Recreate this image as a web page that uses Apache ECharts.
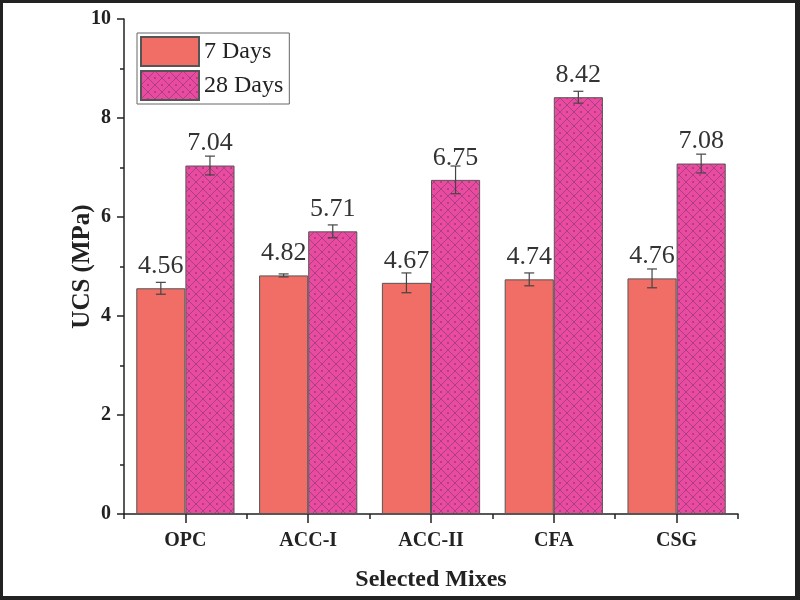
<!DOCTYPE html>
<html>
<head>
<meta charset="utf-8">
<script src="https://cdn.jsdelivr.net/npm/echarts@6/dist/echarts.min.js"></script>
<style>
html,body{margin:0;padding:0;background:#fff;}
#chart{width:800px;height:600px;}
</style>
</head>
<body>
<div id="chart"></div>
<script>
const categories = ['OPC', 'ACC-I', 'ACC-II', 'CFA', 'CSG'];
const days7 = [4.56, 4.82, 4.67, 4.74, 4.76];
const days28 = [7.04, 5.71, 6.75, 8.42, 7.08];
const err7 = [0.12, 0.03, 0.2, 0.13, 0.19];
const err28 = [0.19, 0.13, 0.28, 0.12, 0.19];
const yTicks = [0, 2, 4, 6, 8, 10];

const FONT = '"Liberation Serif", "Times New Roman", serif';

// crosshatch pattern for 28 Days
function makePattern() {
  const s = 14;
  const c = document.createElement('canvas');
  c.width = s; c.height = s;
  const g = c.getContext('2d');
  g.fillStyle = '#E94C9F';
  g.fillRect(0, 0, s, s);
  g.strokeStyle = 'rgba(80,40,100,0.6)';
  g.lineWidth = 0.7;
  g.beginPath();
  g.moveTo(0, 0); g.lineTo(s, s);
  g.moveTo(s, 0); g.lineTo(0, s);
  g.stroke();
  g.fillStyle = 'rgba(60,20,80,0.7)';
  [[s/2,0],[0,s/2],[s,s/2],[s/2,s]].forEach(p => {
    g.beginPath(); g.arc(p[0], p[1], 0.75, 0, Math.PI*2); g.fill();
  });
  return c;
}
const pattern = makePattern();

const chart = echarts.init(document.getElementById('chart'), null, {renderer: 'canvas'});

function errorSeries(vals, errs, side) {
  return {
    type: 'custom',
    xAxisIndex: 0,
    yAxisIndex: 0,
    data: vals.map((v, i) => [i, v, errs[i]]),
    z: 10,
    silent: true,
    renderItem: function (params, api) {
      const i = api.value(0);
      const v = api.value(1);
      const e = api.value(2);
      const band = api.size([1, 0])[0];
      const bw = band * 0.8 / 2;
      const c = api.coord([i, v]);
      const x = c[0] + side * bw / 2;
      const yTop = api.coord([i, v + e])[1];
      const yBot = api.coord([i, v - e])[1];
      const cap = 5;
      const style = {stroke: '#444', lineWidth: 1.2};
      return {
        type: 'group',
        children: [
          {type: 'line', shape: {x1: x, y1: yTop, x2: x, y2: yBot}, style: style},
          {type: 'line', shape: {x1: x - cap, y1: yTop, x2: x + cap, y2: yTop}, style: style},
          {type: 'line', shape: {x1: x - cap, y1: yBot, x2: x + cap, y2: yBot}, style: style}
        ]
      };
    }
  };
}

const labelStyle = {
  show: true,
  position: 'top',
  distance: 9,
  fontFamily: FONT,
  fontSize: 26,
  color: '#333'
};

const option = {
  animation: false,
  backgroundColor: '#fff',
  graphic: [
    {type: 'rect', shape: {x: 0, y: 0, width: 800, height: 3}, style: {fill: '#222'}, z: 100},
    {type: 'rect', shape: {x: 0, y: 596, width: 800, height: 4}, style: {fill: '#222'}, z: 100},
    {type: 'rect', shape: {x: 0, y: 0, width: 3, height: 600}, style: {fill: '#222'}, z: 100},
    {type: 'rect', shape: {x: 795, y: 0, width: 5, height: 600}, style: {fill: '#222'}, z: 100}
  ],
  grid: {left: 124, right: 62, top: 19, bottom: 86, containLabel: false},
  legend: {
    orient: 'vertical',
    left: 137,
    top: 33,
    itemWidth: 58,
    itemHeight: 29,
    itemGap: 3,
    padding: [3, 6, 3, 3],
    borderColor: '#666',
    borderWidth: 1,
    icon: 'rect',
    textStyle: {fontFamily: FONT, fontSize: 24, color: '#222'},
    data: ['7 Days', '28 Days']
  },
  xAxis: [
    {
      type: 'category',
      data: categories,
      name: 'Selected Mixes',
      nameLocation: 'middle',
      nameGap: 54,
      nameMoveOverlap: false,
      nameTextStyle: {fontFamily: FONT, fontSize: 24, fontWeight: 'bold', color: '#222'},
      axisLine: {show: true, lineStyle: {color: '#222', width: 1.5}},
      axisTick: {show: true, alignWithLabel: true, length: 9, lineStyle: {color: '#222', width: 1.5}},
      axisLabel: {fontFamily: FONT, fontSize: 20, fontWeight: 'bold', color: '#222', margin: 17},
      splitLine: {show: false}
    },
    {
      type: 'value',
      min: 0,
      max: 5,
      interval: 1,
      position: 'bottom',
      axisLine: {show: false},
      axisTick: {show: true, inside: false, length: 5, lineStyle: {color: '#222', width: 1.5}},
      axisLabel: {show: false},
      splitLine: {show: false}
    }
  ],
  yAxis: {
    type: 'value',
    min: yTicks[0],
    max: yTicks[yTicks.length - 1],
    interval: 2,
    name: 'UCS (MPa)',
    nameLocation: 'middle',
    nameGap: 29,
    nameMoveOverlap: false,
    nameTextStyle: {fontFamily: FONT, fontSize: 25, fontWeight: 'bold', color: '#222'},
    axisLine: {show: true, lineStyle: {color: '#222', width: 1.5}},
    axisTick: {show: true, length: 7, lineStyle: {color: '#222', width: 1.5}},
    minorTick: {show: true, splitNumber: 2, length: 4, lineStyle: {color: '#222', width: 1.5}},
    axisLabel: {fontFamily: FONT, fontSize: 20, fontWeight: 'bold', color: '#222', margin: 13},
    splitLine: {show: false}
  },
  series: [
    {
      name: '7 Days',
      type: 'bar',
      data: days7,
      barGap: '0%',
      barCategoryGap: '20%',
      itemStyle: {color: '#F06E66', borderColor: '#555', borderWidth: 1},
      label: labelStyle
    },
    {
      name: '28 Days',
      type: 'bar',
      data: days28,
      barGap: '0%',
      barCategoryGap: '20%',
      itemStyle: {color: {image: pattern, repeat: 'repeat'}, borderColor: '#555', borderWidth: 1},
      label: labelStyle
    },
    errorSeries(days7, err7, -1),
    errorSeries(days28, err28, 1)
  ]
};

chart.setOption(option);
</script>
</body>
</html>
